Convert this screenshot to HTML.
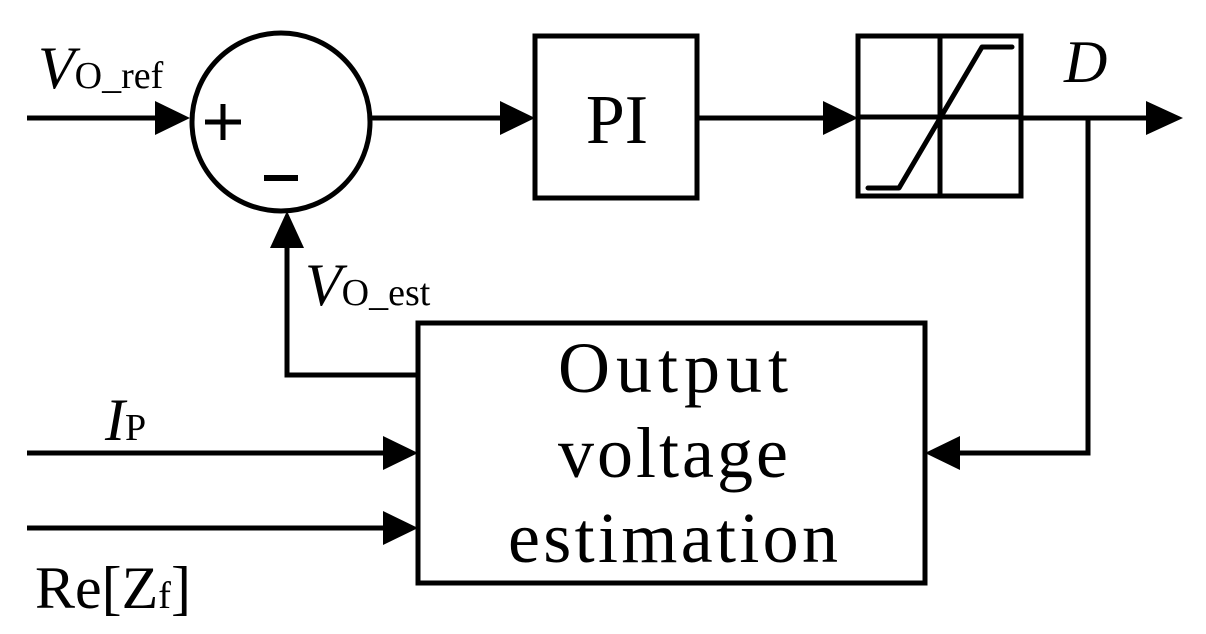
<!DOCTYPE html>
<html><head><style>
html,body{margin:0;padding:0;background:#fff;}
svg{display:block;}
text{font-family:"Liberation Serif",serif;fill:#000;}
</style></head><body>
<svg width="1206" height="634" viewBox="0 0 1206 634" xmlns="http://www.w3.org/2000/svg">
<g stroke="#000" stroke-width="5" fill="none">
<circle cx="281" cy="122" r="89"/>
<rect x="535" y="36" width="162" height="162"/>
<rect x="858" y="36" width="163" height="160"/>
<line x1="940" y1="36" x2="940" y2="196"/>
<line x1="858" y1="117" x2="1021" y2="117"/>
<polyline points="868,188 899,188 982,47 1012,47" stroke-linecap="round" stroke-linejoin="round"/>
<rect x="418" y="323" width="507" height="260"/>
<line x1="27" y1="118" x2="160" y2="118"/>
<line x1="372" y1="118" x2="505" y2="118"/>
<line x1="697" y1="118" x2="828" y2="118"/>
<line x1="1021" y1="118" x2="1150" y2="118"/>
<polyline points="1088,118 1088,453 955,453"/>
<polyline points="418,375 287,375 287,245"/>
<line x1="27" y1="453" x2="388" y2="453"/>
<line x1="27" y1="528" x2="388" y2="528"/>
<line x1="205" y1="122" x2="241" y2="122"/>
<line x1="223" y1="104" x2="223" y2="140"/>
<line x1="264" y1="178" x2="298" y2="178" stroke-width="6"/>
</g>
<g fill="#000">
<polygon points="190,118 155,101 155,135"/>
<polygon points="535,118 500,101 500,135"/>
<polygon points="858,118 823,101 823,135"/>
<polygon points="1183,118 1146,101 1146,135"/>
<polygon points="925,453 960,436 960,470"/>
<polygon points="287,211 270,248 304,248"/>
<polygon points="418,453 383,436 383,470"/>
<polygon points="418,528 383,511 383,545"/>
</g>
<text x="617" y="143" font-size="70" text-anchor="middle">PI</text>
<text x="673" y="392" font-size="72" text-anchor="middle" textLength="230">Output</text>
<text x="673" y="477" font-size="72" text-anchor="middle" textLength="230">voltage</text>
<text x="673" y="562" font-size="72" text-anchor="middle" textLength="330">estimation</text>
<text x="38" y="88" font-size="60"><tspan font-style="italic">V</tspan><tspan font-size="38">O_ref</tspan></text>
<text x="305" y="305" font-size="60"><tspan font-style="italic">V</tspan><tspan font-size="38">O_est</tspan></text>
<text x="1064" y="82" font-size="60" font-style="italic">D</text>
<text x="105" y="440" font-size="60"><tspan font-style="italic">I</tspan><tspan font-size="38">P</tspan></text>
<text x="35" y="608" font-size="60">Re[Z<tspan font-size="38">f</tspan>]</text>
</svg>
</body></html>
